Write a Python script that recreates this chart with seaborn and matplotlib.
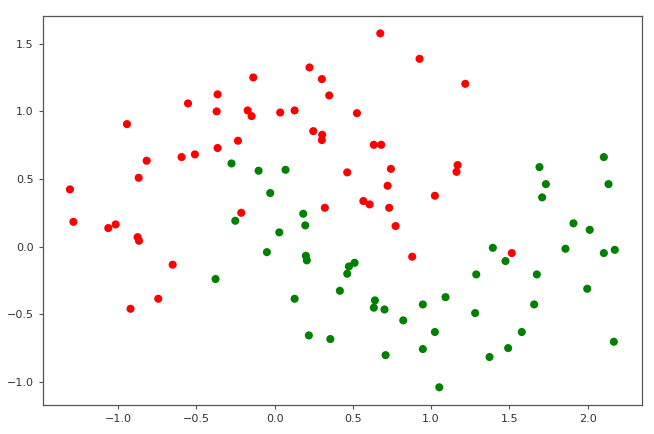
import numpy as np
import pandas as pd
import matplotlib
matplotlib.use("Agg")
import matplotlib.pyplot as plt
import seaborn as sns

# class 0 (red) points
red_x = [-1.307, -1.285, -1.062, -1.015, -0.943, -0.868, -0.817, -0.875, -0.866, -0.920,
         -0.743, -0.651, -0.594, -0.509, -0.553, -0.364, -0.370, -0.364, -0.234, -0.172,
         -0.147, -0.136, -0.213, 0.036, 0.128, 0.223, 0.302, 0.349, 0.247, 0.304,
         0.302, 0.526, 0.634, 0.681, 0.675, 0.926, 1.218, 0.464, 0.743, 0.722,
         1.024, 1.169, 1.162, 0.567, 0.607, 0.321, 0.732, 0.773, 0.879, 1.515]
red_y = [0.423, 0.183, 0.137, 0.164, 0.906, 0.509, 0.635, 0.070, 0.043, -0.460,
         -0.386, -0.134, 0.662, 0.682, 1.059, 1.126, 1.000, 0.729, 0.783, 1.007,
         0.965, 1.251, 0.250, 0.992, 1.007, 1.325, 1.239, 1.118, 0.854, 0.827,
         0.788, 0.987, 0.753, 0.753, 1.577, 1.389, 1.204, 0.549, 0.575, 0.450,
         0.376, 0.603, 0.553, 0.337, 0.312, 0.287, 0.287, 0.152, -0.075, -0.048]

# class 1 (green) points
green_x = [-0.275, -0.251, -0.377, -0.102, 0.070, -0.028, 0.183, 0.196, 0.030, -0.049,
           0.200, 0.206, 0.128, 0.219, 0.356, 0.417, 0.464, 0.475, 0.511, 0.641,
           0.634, 0.702, 0.822, 0.709, 0.947, 0.947, 1.024, 1.052, 1.092, 1.288,
           1.281, 1.394, 1.475, 1.373, 1.492, 1.579, 1.675, 1.658, 1.858, 1.909,
           2.013, 2.103, 2.173, 1.997, 2.167, 1.692, 1.733, 1.709, 2.103, 2.133]
green_y = [0.615, 0.191, -0.240, 0.561, 0.568, 0.396, 0.243, 0.157, 0.105, -0.041,
           -0.068, -0.102, -0.386, -0.657, -0.684, -0.327, -0.201, -0.147, -0.120, -0.398,
           -0.452, -0.465, -0.546, -0.803, -0.428, -0.758, -0.632, -1.041, -0.374, -0.206,
           -0.492, -0.009, -0.107, -0.817, -0.751, -0.632, -0.206, -0.428, -0.016, 0.172,
           0.124, -0.048, -0.024, -0.312, -0.704, 0.588, 0.462, 0.364, 0.662, 0.462]

df = pd.DataFrame({
    "x": red_x + green_x,
    "y": red_y + green_y,
    "label": ["0"] * len(red_x) + ["1"] * len(green_x),
})

fig = plt.figure(figsize=(6.54, 4.34), dpi=100)
ax = fig.add_axes([0.0653, 0.0668, 0.9164, 0.897])
sns.scatterplot(data=df, x="x", y="y", hue="label",
                palette={"0": "red", "1": "green"},
                s=34, linewidth=0, legend=False, ax=ax)
ax.set_xlabel("")
ax.set_ylabel("")

# thinner grey frame and smaller tick labels like the original
for sp in ax.spines.values():
    sp.set_color("#555555")
    sp.set_linewidth(0.9)
ax.tick_params(labelsize=8, length=3, width=0.8, color="#555555", labelcolor="#333333")

fig.savefig("out.png", dpi=100)
